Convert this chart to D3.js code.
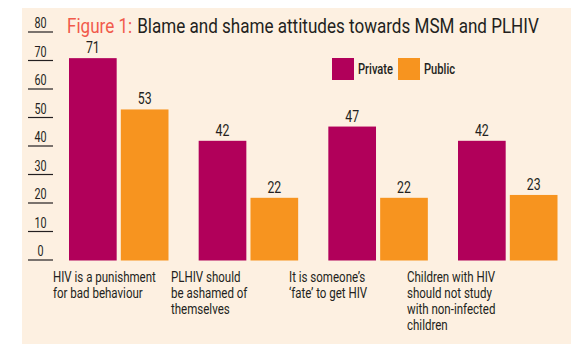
<!DOCTYPE html>
<html><head><meta charset="utf-8">
<script src="https://cdn.jsdelivr.net/npm/d3@7"></script>
<style>
html,body{margin:0;padding:0;background:#fff;}
svg{display:block;}
text{font-family:"Roboto","Liberation Sans",sans-serif;fill:#231f20;}
</style></head><body>
<svg id="c" width="579" height="348"></svg>
<script>
const categories = [
  ["HIV is a punishment", "for bad behaviour"],
  ["PLHIV should", "be ashamed of", "themselves"],
  ["It is someone\u2019s", "\u2018fate\u2019 to get HIV"],
  ["Children with HIV", "should not study", "with non-infected", "children"]
];
const seriesNames = ["Private", "Public"];
const privateValues = [71, 42, 47, 42];
const publicValues = [53, 22, 22, 23];
const yTicks = [0, 10, 20, 30, 40, 50, 60, 70, 80];
const titleLead = "Figure 1:";
const titleRest = "Blame and shame attitudes towards MSM and PLHIV";

const colors = {Private: "#b1005a", Public: "#f7941f"};
const svg = d3.select("#c");

svg.append("rect").attr("x", 22).attr("y", 8).attr("width", 549).attr("height", 336).attr("fill", "#fdf0e1");

function factorFor(size, str, target) {
  const p = svg.append("text").style("font-size", size + "px").text(str);
  const f = target / p.node().getComputedTextLength();
  p.remove();
  return f;
}
const F = factorFor(15, "HIV is a punishment", 103);

const keys = categories.map((c, i) => "c" + i);
const data = keys.map((k, i) => ({key: k, lines: categories[i], Private: privateValues[i], Public: publicValues[i]}));

const y = d3.scaleLinear().domain([0, 80]).range([260.5, 32.5]);
const x0 = d3.scaleBand().domain(keys).range([69, 557.5]).paddingInner(0.2327).paddingOuter(0);
const x1 = d3.scaleBand().domain(seriesNames).range([0, x0.bandwidth()]).paddingInner(0.08).paddingOuter(0);
const xl = d3.scalePoint().domain(keys).range([53, 407]);

// y axis
const axis = d3.axisLeft(y).tickValues(yTicks).tickSize(25).tickFormat(d3.format("d"));
const ag = svg.append("g").attr("transform", "translate(53,-1)").call(axis);
ag.select(".domain").remove();
ag.selectAll(".tick line").attr("stroke", "#231f20").attr("stroke-width", 1.2);
ag.selectAll(".tick text").attr("x", 0).attr("y", 0).attr("dy", "-4px").attr("text-anchor", "middle")
  .attr("transform", `translate(-12.5,0) scale(${F},1)`)
  .attr("fill", "#231f20").style("font-size", "14px").style("font-family", "Roboto,sans-serif");

// bars
const g = svg.append("g").selectAll("g").data(data).join("g").attr("transform", d => `translate(${x0(d.key)},0)`);
g.selectAll("rect").data(d => seriesNames.map(s => ({s, v: d[s]}))).join("rect")
  .attr("x", d => x1(d.s)).attr("width", x1.bandwidth())
  .attr("y", d => y(d.v)).attr("height", d => y(0) - y(d.v)).attr("fill", d => colors[d.s]);
g.selectAll("text.v").data(d => seriesNames.map(s => ({s, v: d[s]}))).join("text").attr("class", "v")
  .attr("transform", d => `translate(${x1(d.s) + x1.bandwidth() / 2},${y(d.v) - 5}) scale(${F},1)`)
  .attr("text-anchor", "middle").style("font-size", "16px").text(d => d.v);

// category labels
const cl = svg.append("g").selectAll("text").data(data).join("text")
  .attr("transform", d => `translate(${xl(d.key)},282) scale(${F},1)`).style("font-size", "15px");
cl.selectAll("tspan").data(d => d.lines).join("tspan")
  .attr("x", 0).attr("dy", (d, i) => i === 0 ? 0 : 16).text(d => d);

// title (two text elements)
const t1 = svg.append("text").style("font-size", "19.5px").style("fill", "#f15a4b").text(titleLead);
const t2 = svg.append("text").style("font-size", "19.5px").text(titleRest);
const L1 = t1.node().getComputedTextLength(), L2 = t2.node().getComputedTextLength();
const gap = 5;
const FT = (472 - gap) / (L1 + L2);
t1.attr("transform", `translate(67,33) scale(${FT},1)`);
t2.attr("transform", `translate(${67 + L1 * FT + gap},33) scale(${FT},1)`);

// legend
const lg = svg.append("g").selectAll("g").data(seriesNames).join("g")
  .attr("transform", (d, i) => `translate(${i === 0 ? 332 : 398},58)`);
lg.append("rect").attr("width", 22).attr("height", 22).attr("fill", d => colors[d]);
lg.append("text").attr("transform", `translate(26,15.5) scale(${F},1)`)
  .style("font-size", "14.5px").style("font-weight", "500").text(d => d);
</script>
</body></html>
